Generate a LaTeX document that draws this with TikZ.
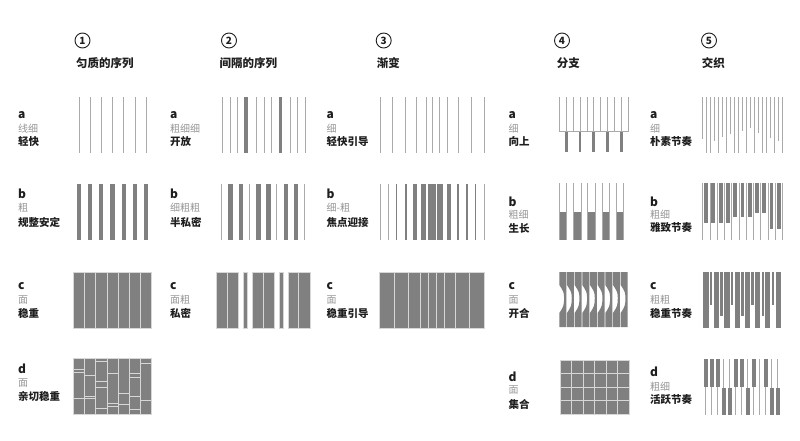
\documentclass[tikz,border=0pt]{standalone}
\usepackage{fontspec}
\setmainfont{Noto Sans CJK SC}
\definecolor{barc}{RGB}{128,128,128}
\definecolor{thinc}{RGB}{170,170,170}
\definecolor{gapc}{RGB}{215,215,215}
\definecolor{grayc}{RGB}{150,150,150}
\definecolor{txtc}{RGB}{30,30,30}
\begin{document}
\begin{tikzpicture}[x=1pt,y=-1pt,
  tline/.style={draw=thinc, line width=0.8pt},
  barf/.style={fill=barc},
  panel/.style={fill=barc, draw=gapc, line width=0.7pt},
  gapl/.style={draw=gapc, line width=0.8pt},
  lett/.style={anchor=west, inner sep=0pt, font=\fontsize{12}{12}\selectfont\bfseries, text=txtc},
  sub/.style={anchor=west, inner sep=0pt, font=\fontsize{10}{10}\selectfont, text=grayc},
  lab/.style={anchor=west, inner sep=0pt, font=\fontsize{10.5}{10.5}\selectfont\bfseries, text=txtc},
  ttl/.style={anchor=west, inner sep=0pt, font=\fontsize{11.5}{11.5}\selectfont\bfseries, text=txtc},
  num/.style={circle, draw=txtc, line width=0.9pt, minimum size=15pt, inner sep=0pt, text=txtc, font=\fontsize{10}{10}\selectfont\bfseries}]
\useasboundingbox (0,0) rectangle (800,440);

% ---------- headers ----------
\node[num] (n1) at (82.5,40.5) {1};
\node[ttl] (t1) at (76,62.7) {匀质的序列};
\node[num] (n2) at (229,40.5) {2};
\node[ttl] (t2) at (219.3,62.7) {间隔的序列};
\node[num] (n3) at (383.7,40.5) {3};
\node[ttl] (t3) at (376.7,62.7) {渐变};
\node[num] (n4) at (562,40.5) {4};
\node[ttl] (t4) at (556.7,62.7) {分支};
\node[num] (n5) at (709,40.5) {5};
\node[ttl] (t5) at (701.7,62.7) {交织};

% ---------- labels column 1 ----------
\node[lett] (l1a) at (18,115) {a};
\node[sub] (s1a) at (18,128.5) {线细};
\node[lab] (k1a) at (18,142) {轻快};
\node[lett] (l1b) at (18,194) {b};
\node[sub] (s1b) at (18,208) {粗};
\node[lab] (k1b) at (18,222) {规整安定};
\node[lett] (l1c) at (18,286.5) {c};
\node[sub] (s1c) at (18,300) {面};
\node[lab] (k1c) at (18,313.5) {稳重};
\node[lett] (l1d) at (18,368.5) {d};
\node[sub] (s1d) at (18,383) {面};
\node[lab] (k1d) at (18,397) {亲切稳重};
% column 2
\node[lett] (l2a) at (170,115) {a};
\node[sub] (s2a) at (170,128.5) {粗细细};
\node[lab] (k2a) at (170,142) {开放};
\node[lett] (l2b) at (170,194) {b};
\node[sub] (s2b) at (170,208) {细粗粗};
\node[lab] (k2b) at (170,222) {半私密};
\node[lett] (l2c) at (170,286.5) {c};
\node[sub] (s2c) at (170,300) {面粗};
\node[lab] (k2c) at (170,313.5) {私密};
% column 3
\node[lett] (l3a) at (326.5,115) {a};
\node[sub] (s3a) at (326.5,128.5) {细};
\node[lab] (k3a) at (326.5,142) {轻快引导};
\node[lett] (l3b) at (326.5,194) {b};
\node[sub] (s3b) at (326.5,208) {细-粗};
\node[lab] (k3b) at (326.5,222) {焦点迎接};
\node[lett] (l3c) at (326.5,286.5) {c};
\node[sub] (s3c) at (326.5,300) {面};
\node[lab] (k3c) at (326.5,313.5) {稳重引导};
% column 4
\node[lett] (l4a) at (508.5,115) {a};
\node[sub] (s4a) at (508.5,128.5) {细};
\node[lab] (k4a) at (508.5,142) {向上};
\node[lett] (l4b) at (508.5,201.7) {b};
\node[sub] (s4b) at (508.5,214.5) {粗细};
\node[lab] (k4b) at (508.5,228) {生长};
\node[lett] (l4c) at (508.5,286.5) {c};
\node[sub] (s4c) at (508.5,300) {面};
\node[lab] (k4c) at (508.5,313.5) {开合};
\node[lett] (l4d) at (508.5,377) {d};
\node[sub] (s4d) at (508.5,390.5) {面};
\node[lab] (k4d) at (508.5,404) {集合};
% column 5
\node[lett] (l5a) at (650,115) {a};
\node[sub] (s5a) at (650,128.5) {细};
\node[lab] (k5a) at (650,142) {朴素节奏};
\node[lett] (l5b) at (650,201.7) {b};
\node[sub] (s5b) at (650,214.5) {粗细};
\node[lab] (k5b) at (650,228) {雅致节奏};
\node[lett] (l5c) at (650,286.5) {c};
\node[sub] (s5c) at (650,300) {粗粗};
\node[lab] (k5c) at (650,313.5) {稳重节奏};
\node[lett] (l5d) at (650,371.7) {d};
\node[sub] (s5d) at (650,386.7) {粗细};
\node[lab] (k5d) at (650,400) {活跃节奏};

% ================= column 1 =================
\foreach \i in {0,...,6} \draw[tline] ({78.9+11.2*\i},97) -- ++(0,56);
\foreach \i in {0,...,6} \fill[barf] ({76.75+11.2*\i},184) rectangle ++(4.3,56);
\foreach \i in {0,...,6} \draw[panel] ({73.3+11.2*\i},272) rectangle ++(11.2,56);
\foreach \i in {0,...,6} \draw[panel] ({73.3+11.2*\i},358) rectangle ++(11.2,56);
\foreach \c/\y in {0/369,0/372,0/398,1/375.7,1/396,1/398.7,2/361.7,2/381.7,2/387.3,2/408.3,
  3/373.3,3/403.3,3/406,4/393.3,4/404.3,5/373.3,5/377.3,5/396,5/409.3,6/363.3,6/400}
  \draw[gapl] ({73.3+11.2*\c},\y) -- ++(11.2,0);

% ================= column 2 =================
\foreach \x in {222.7,230,237.3,256.7,264,271.7,290,297.3,305} \draw[tline] (\x,97) -- ++(0,56);
\foreach \x in {246,280.7} \fill[barf] ({\x-1.65},97) rectangle ++(3.3,56);
\foreach \x in {221.7,249,276.5,304} \draw[tline] (\x,184) -- ++(0,56);
\foreach \x in {230.5,241,258.5,268.5,286,296} \fill[barf] ({\x-2.2},184) rectangle ++(4.4,56);
\foreach \a/\b in {216.7/227.2,227.2/238.3,243.3/247.3,252.3/263.2,263.2/274.3,279.3/283.3,288.3/298.8,298.8/310}
  \draw[panel] (\a,272) rectangle (\b,328);

% ================= column 3 =================
\foreach \x in {380,392.7,405,416.7,426,432.7,439.3,447.7,458.3,471,484} \draw[tline] (\x,97) -- ++(0,56);
\foreach \x in {380,388.4,484} \draw[tline] (\x,184) -- ++(0,56);
\foreach \a/\b in {396.2/397.4,405/407.3,412.7/416.7,420.7/426,428.3/435.7,437.3/443.3,446.7/450.7,456.7/459.3,465.7/467.7,475.2/476.4}
  \fill[barf] (\a,184) rectangle (\b,240);
\foreach \a/\b in {379.3/394,394/408.3,408.3/420,420/428.3,428.3/436,436/444.3,444.3/455,455/469.3,469.3/484.3}
  \draw[panel] (\a,272) rectangle (\b,328);

% ================= column 4 =================
\foreach \i in {0,...,10} \draw[tline] ({559.3+6.9*\i},97) -- ++(0,34.7);
\draw[tline] (559.3,131.7) -- (628.3,131.7);
\foreach \i in {1,3,5,7,9} \fill[barf] ({559.3+6.9*\i-1.35},131.7) rectangle ++(2.7,20.3);
\foreach \i in {0,...,4} {
  \fill[barf] ({559.3+14.2*\i},211.7) rectangle ++(7.4,28.3);
  \draw[tline] ({559.3+14.2*\i},183.3) -- ++(0,56.7);
  \draw[tline] ({566.7+14.2*\i},183.3) -- ++(0,56.7);
}
\foreach \i in {0,...,8} {
  \pgfmathsetmacro{\xa}{559.3+7.67*\i}
  \pgfmathsetmacro{\xb}{559.3+7.67*(\i+1)}
  \fill[barc]
    (\xa,272) -- ({\xb-0.7},272) -- ({\xb-0.7},327) -- (\xa,327) -- (\xa,313)
    .. controls ({\xa+4.5},306) .. ({\xa+4.8},298)
    .. controls ({\xa+4.5},292) .. (\xa,285) -- cycle;
}
\foreach \i in {0,...,5} \foreach \j in {0,...,3}
  \draw[panel] ({560+11.5*\i},{360+13.5*\j}) rectangle ++(11.5,13.5);

% ================= column 5 =================
\foreach \i/\b in {0/139,1/153,2/153,3/141,4/153,5/137,6/153,7/134,8/153,9/153,10/131,
  11/153,12/128,13/153,14/133,15/153,16/153,17/138,18/153,19/141,20/153}
  \draw[tline] ({702.7+4*\i},97) -- ({702.7+4*\i},\b);
\foreach \i in {0,...,11} \draw[tline] ({702.7+7.27*\i},182.7) -- ++(0,57.3);
\foreach \i/\b in {0/223,1/223,2/223,3/223,4/217,5/217,6/217,7/213,8/213,9/229,10/229}
  \fill[barf] ({702.7+7.27*\i+1.5},182.7) rectangle ({702.7+7.27*\i+5.3},\b);
\foreach \x in {703.3,714,724.3,735,745,755,765,775.7} \fill[barf] (\x,271.7) rectangle ++(5.2,56.6);
\foreach \x/\b in {709.7/305,720.3/316,730.7/305,741.3/316,751.3/305,761.5/316,771.5/305}
  \fill[barf] (\x,271.7) rectangle ({\x+2.5},\b);
\foreach \i in {0,...,12} \draw[tline] ({705.7+6*\i},359.3) -- ++(0,55.7);
\foreach \i in {0,1,2,5,6,8,10} \fill[barf] ({705.7+6*\i-2},359.3) rectangle ++(4,27.4);
\foreach \i in {3,4,7,11,12} \fill[barf] ({705.7+6*\i-2},387.7) rectangle ++(4,27.3);
\end{tikzpicture}
\end{document}
